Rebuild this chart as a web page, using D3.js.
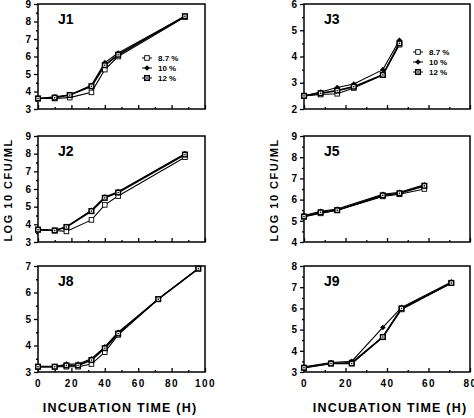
<!DOCTYPE html>
<html><head><meta charset="utf-8">
<script src="https://cdn.jsdelivr.net/npm/d3@7"></script>
<style>body{margin:0;background:#fff}text{font-family:"Liberation Sans",Arial,sans-serif;font-weight:bold}</style>
</head><body><svg id="c" width="474" height="418"></svg>
<script>
const seriesNames = ['8.7 %', '10 %', '12 %'];

const j1Time = [0, 10, 19, 32, 40, 48, 88];
const j1Values = [[3.6,3.6,3.65,3.95,5.25,6.0,8.25],[3.6,3.7,3.8,4.35,5.65,6.2,8.3],[3.6,3.65,3.8,4.3,5.5,6.1,8.3]];
const j2Time = [0, 10, 17, 32, 40, 48, 88];
const j2Values = [[3.7,3.65,3.6,4.25,5.1,5.6,7.8],[3.7,3.65,3.85,4.8,5.55,5.85,8.0],[3.7,3.65,3.85,4.75,5.5,5.8,7.95]];
const j8Time = [0, 10, 17, 24, 32, 40, 48, 72, 96];
const j8Values = [[3.2,3.2,3.2,3.2,3.3,3.75,4.4,5.75,6.9],[3.2,3.2,3.3,3.3,3.5,3.95,4.5,5.75,6.9],[3.2,3.2,3.25,3.25,3.45,3.9,4.45,5.75,6.9]];
const j3Time = [0, 8, 16, 24, 38, 46];
const j3Values = [[2.5,2.55,2.58,2.8,3.3,4.45],[2.5,2.65,2.82,2.95,3.5,4.62],[2.5,2.6,2.7,2.85,3.3,4.5]];
const j5Time = [0, 8, 16, 38, 46, 58];
const j5Values = [[5.2,5.35,5.5,6.15,6.25,6.5],[5.25,5.45,5.55,6.25,6.35,6.7],[5.2,5.4,5.5,6.2,6.3,6.65]];
const j9Time = [0, 13, 23, 38, 47, 71];
const j9Values = [[3.2,3.4,3.45,4.65,5.95,7.2],[3.25,3.45,3.5,5.1,6.05,7.25],[3.2,3.4,3.4,4.65,6.0,7.2]];

const panels = [
  {name:'J1', t:j1Time, v:j1Values, x:[38,205], y:[4,109], xd:[0,100], yd:[3,9], legend:[147,58], xlab:false},
  {name:'J2', t:j2Time, v:j2Values, x:[38,205], y:[136,242], xd:[0,100], yd:[3,9], xlab:false},
  {name:'J8', t:j8Time, v:j8Values, x:[38,205], y:[266,372], xd:[0,100], yd:[3,7], xlab:true},
  {name:'J3', t:j3Time, v:j3Values, x:[304,470], y:[4,109], xd:[0,80], yd:[2,6], legend:[418,52], xlab:false},
  {name:'J5', t:j5Time, v:j5Values, x:[304,470], y:[136,242], xd:[0,80], yd:[4,9], xlab:false},
  {name:'J9', t:j9Time, v:j9Values, x:[304,470], y:[266,372], xd:[0,80], yd:[3,8], xlab:true}
];

const svg = d3.select('#c');

function marker(g, i, x, y) {
  if (i === 1) {
    g.append('path').attr('d', `M${x-2.8},${y}L${x},${y-2.8}L${x+2.8},${y}L${x},${y+2.8}Z`).attr('fill', '#000');
  } else {
    g.append('rect').attr('x', x-2.3).attr('y', y-2.3).attr('width', 4.6).attr('height', 4.6)
      .attr('fill', '#fff').attr('stroke', '#000').attr('stroke-width', i === 2 ? 1.5 : 0.9);
    if (i === 2) g.append('rect').attr('x', x-0.7).attr('y', y-0.7).attr('width', 1.4).attr('height', 1.4).attr('fill', '#000');
  }
}

panels.forEach(p => {
  const x = d3.scaleLinear().domain(p.xd).range(p.x);
  const y = d3.scaleLinear().domain(p.yd).range([p.y[1], p.y[0]]);
  const g = svg.append('g');

  g.append('rect').attr('x', p.x[0]).attr('y', p.y[0]).attr('width', p.x[1]-p.x[0]).attr('height', p.y[1]-p.y[0])
    .attr('fill', 'none').attr('stroke', '#000').attr('stroke-width', 1.5);

  g.append('g').attr('transform', `translate(${p.x[0]},0)`)
    .call(d3.axisLeft(y).ticks(p.yd[1]-p.yd[0]).tickSize(4).tickPadding(3).tickFormat(d3.format('d')));
  const yMinor = d3.range(p.yd[0], p.yd[1], 0.5).filter(d => d % 1 !== 0);
  g.append('g').attr('transform', `translate(${p.x[0]},0)`).call(d3.axisLeft(y).tickValues(yMinor).tickSize(2).tickFormat(''));

  const xa = g.append('g').attr('transform', `translate(0,${p.y[1]})`)
    .call(d3.axisBottom(x).tickValues(d3.range(0, p.xd[1]+1, 20)).tickSize(-4).tickPadding(8)
      .tickFormat(p.xlab ? d3.format('d') : ''));
  g.append('g').attr('transform', `translate(0,${p.y[1]})`)
    .call(d3.axisBottom(x).tickValues(d3.range(10, p.xd[1], 20)).tickSize(-2).tickFormat(''));
  g.selectAll('.domain').remove();
  g.selectAll('.tick line').attr('stroke-width', 1.3);
  g.selectAll('.tick text').attr('font-size', 10).attr('font-family', '"Liberation Sans",Arial,sans-serif').attr('font-weight', 'bold');
  xa.selectAll('text').attr('letter-spacing', 1.5);

  const line = d3.line().x((d, i) => x(p.t[i])).y(d => y(d));
  p.v.forEach((vals, si) => {
    g.append('path').attr('d', line(vals)).attr('fill', 'none').attr('stroke', '#000').attr('stroke-width', si === 2 ? 1.7 : 1.1);
  });
  p.v.forEach((vals, si) => vals.forEach((d, i) => marker(g, si, x(p.t[i]), y(d))));

  g.append('text').attr('x', p.x[0] + 20).attr('y', p.y[0] + 20).attr('font-size', 14).text(p.name);

  if (p.legend) {
    const [lx, ly] = p.legend;
    seriesNames.forEach((s, i) => {
      const yy = ly + i * 10;
      g.append('line').attr('x1', lx-5).attr('x2', lx+5).attr('y1', yy).attr('y2', yy).attr('stroke', '#000');
      marker(g, i, lx, yy);
      g.append('text').attr('x', lx + 11).attr('y', yy + 3).attr('font-size', 8).text(s);
    });
  }
});

[[12, 190], [278, 190]].forEach(([tx, ty]) => {
  svg.append('text').attr('transform', `translate(${tx},${ty}) rotate(-90)`).attr('text-anchor', 'middle')
    .attr('font-size', 11).attr('letter-spacing', 1.5).text('LOG 10 CFU/ML');
});
[[120, 412], [390, 412]].forEach(([tx, ty]) => {
  svg.append('text').attr('x', tx).attr('y', ty).attr('text-anchor', 'middle')
    .attr('font-size', 12.5).attr('letter-spacing', 1.2).text('INCUBATION TIME (H)');
});
</script></body></html>
